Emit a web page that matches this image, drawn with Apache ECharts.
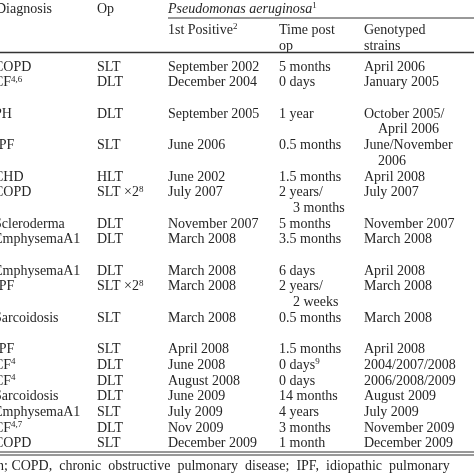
<!DOCTYPE html>
<html>
<head>
<meta charset="utf-8">
<script src="https://cdn.jsdelivr.net/npm/echarts@6/dist/echarts.min.js"></script>
<style>html,body{margin:0;padding:0;background:#fff}#main{width:474px;height:474px}</style>
</head>
<body>
<div id="main"></div>
<script>
// table data, superscripts as rich text {s|..}
var rowLine = [0, 1, 3, 5, 7, 8, 10, 11, 13, 14, 16, 18, 19, 20, 21, 22, 23, 24];
var diagnosis = ['COPD', 'CF{s|4,6}', 'PH', 'IPF', 'CHD', 'COPD', 'Scleroderma', 'EmphysemaA1',
  'EmphysemaA1', 'IPF', 'Sarcoidosis', 'IPF', 'CF{s|4}', 'CF{s|4}', 'Sarcoidosis', 'EmphysemaA1', 'CF{s|4,7}', 'COPD'];
var op = ['SLT', 'DLT', 'DLT', 'SLT', 'HLT', 'SLT ×2{s|8}', 'DLT', 'DLT', 'DLT', 'SLT ×2{s|8}',
  'SLT', 'SLT', 'DLT', 'DLT', 'DLT', 'SLT', 'DLT', 'SLT'];
var firstPositive = ['September 2002', 'December 2004', 'September 2005', 'June 2006', 'June 2002',
  'July 2007', 'November 2007', 'March 2008', 'March 2008', 'March 2008', 'March 2008', 'April 2008',
  'June 2008', 'August 2008', 'June 2009', 'July 2009', 'Nov 2009', 'December 2009'];
var timePostOp = ['5 months', '0 days', '1 year', '0.5 months', '1.5 months', '2 years/\n    3 months',
  '5 months', '3.5 months', '6 days', '2 years/\n    2 weeks', '0.5 months', '1.5 months', '0 days{s|9}',
  '0 days', '14 months', '4 years', '3 months', '1 month'];
var genotyped = ['April 2006', 'January 2005', 'October 2005/\n    April 2006', 'June/November\n    2006',
  'April 2008', 'July 2007', 'November 2007', 'March 2008', 'April 2008', 'March 2008', 'March 2008',
  'April 2008', '2004/2007/2008', '2006/2008/2009', 'August 2009', 'July 2009', 'November 2009', 'December 2009'];
var colX = [-6, 97, 168, 279, 364];
var footer = 'n; COPD,  chronic  obstructive  pulmonary  disease;  IPF,  idiopathic  pulmonary';

var FONT = '"Liberation Serif", "DejaVu Serif", serif';
var INK = '#262626';
var top0 = 67, lh = 15.7;

function txt(x, y, s, extra) {
  return {
    type: 'text', x: x, y: y,
    style: Object.assign({
      text: s, fill: INK, font: '14px ' + FONT, verticalAlign: 'middle', lineHeight: lh,
      rich: { s: { fontSize: 9, fontFamily: FONT, fill: INK, verticalAlign: 'top', padding: [0, 0, 7, 0] } }
    }, extra || {})
  };
}
function hline(x1, x2, y, w) {
  return { type: 'line', shape: { x1: x1, y1: y, x2: x2, y2: y }, style: { stroke: '#333', lineWidth: w } };
}

var els = [];
els.push(txt(-4, 9, 'Diagnosis'));
els.push(txt(97, 9, 'Op'));
els.push(txt(168, 9, 'Pseudomonas aeruginosa{s|1}', { font: 'italic 14px ' + FONT }));
els.push(txt(168, 38, '1st Positive{s|2}', { verticalAlign: 'bottom' }));
els.push(txt(279, 38, 'Time post\nop'));
els.push(txt(364, 38, 'Genotyped\nstrains'));
els.push(hline(168, 474, 18, 1));
els.push(hline(0, 474, 52.5, 1.5));

var cols = [diagnosis, op, firstPositive, timePostOp, genotyped];
for (var i = 0; i < rowLine.length; i++) {
  var y = top0 + rowLine[i] * lh;
  for (var c = 0; c < cols.length; c++) {
    var s = cols[c][i];
    var n = s.split('\n').length;
    els.push(txt(colX[c], y + (n - 1) * lh / 2, s));
  }
}
els.push(hline(0, 474, 452, 1));
els.push(hline(0, 474, 455, 1));
els.push(txt(-3, 466, footer));

var chart = echarts.init(document.getElementById('main'));
chart.setOption({ backgroundColor: '#fff', graphic: { elements: els } });
</script>
</body>
</html>
